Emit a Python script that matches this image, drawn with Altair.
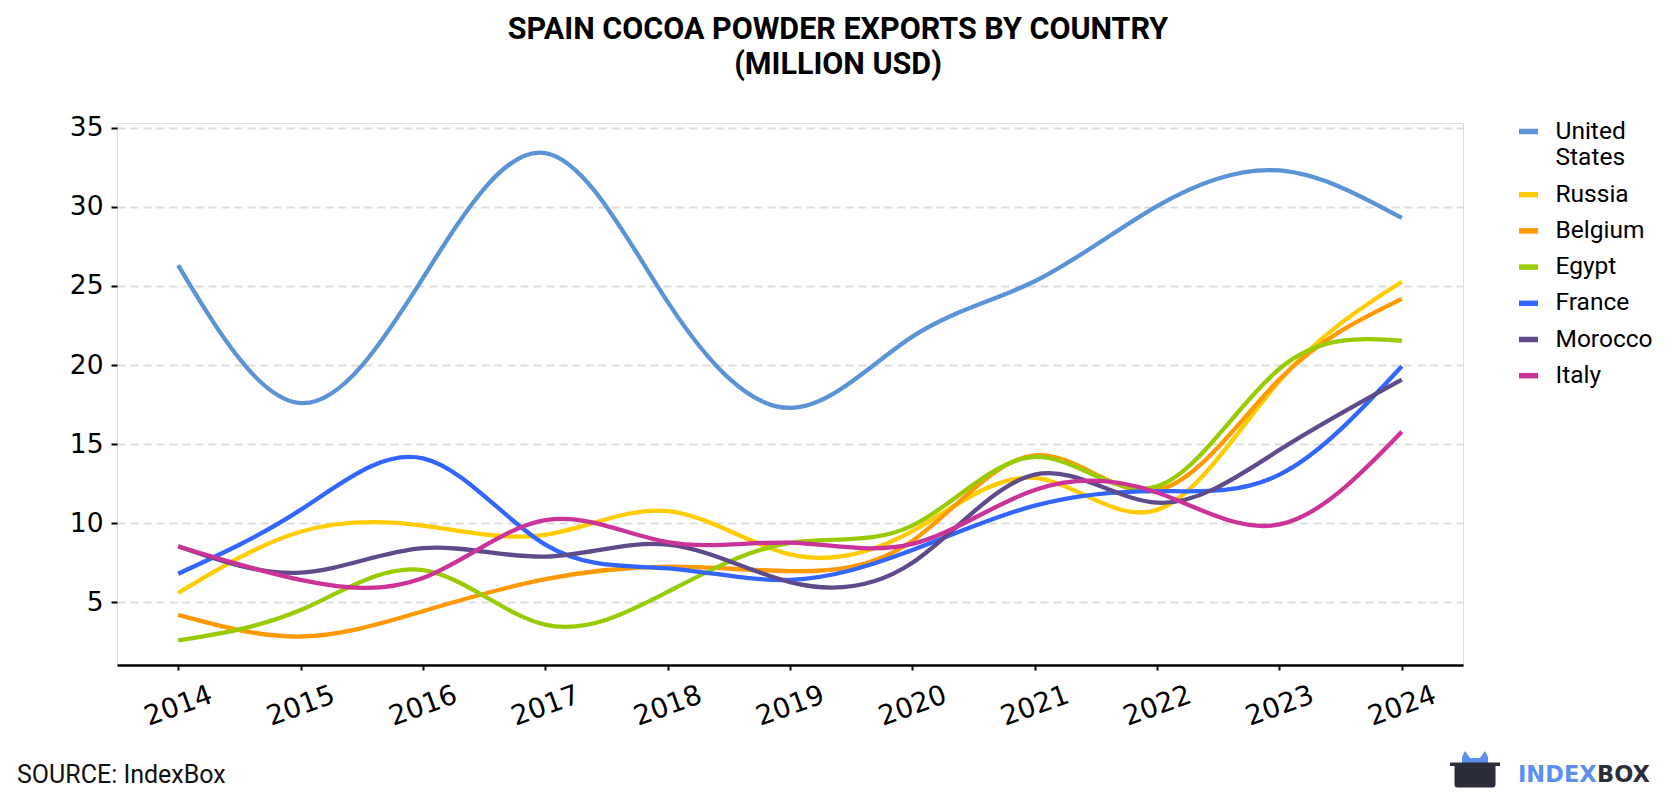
import altair as alt
import pandas as pd

# Export values, million USD
years = list(range(2014, 2025))
countries = ["United States", "Russia", "Belgium", "Egypt", "France", "Morocco", "Italy"]
colors = ["#5B94D6", "#FFCC00", "#FF9900", "#99CC00", "#3366FF", "#5F4B8B", "#CC3399"]

united_states = [26.3, 17.6, 25.5, 33.4, 24.0, 17.3, 21.8, 25.3, 30.05, 32.3, 29.3]
russia = [5.6, 9.47, 9.86, 9.28, 10.78, 8.04, 9.51, 12.87, 10.85, 19.0, 25.27]
belgium = [4.22, 2.85, 4.45, 6.47, 7.26, 6.98, 8.89, 14.3, 12.1, 19.1, 24.19]
egypt = [2.61, 4.52, 7.05, 3.6, 5.67, 8.77, 9.86, 14.2, 12.34, 19.77, 21.54]
france = [6.82, 10.85, 14.11, 8.66, 7.16, 6.43, 8.31, 11.12, 12.04, 13.08, 19.93]
morocco = [8.55, 6.89, 8.43, 7.9, 8.66, 6.29, 7.51, 13.08, 11.31, 14.64, 19.08]
italy = [8.54, 6.43, 6.55, 10.2, 8.82, 8.78, 8.7, 12.11, 11.95, 9.93, 15.79]

series = [united_states, russia, belgium, egypt, france, morocco, italy]
rows = []
for name, vals in zip(countries, series):
    for yr, v in zip(years, vals):
        rows.append({"year": yr, "value": v, "country": name})
df = pd.DataFrame(rows)

y_ticks = [5, 10, 15, 20, 25, 30, 35]

lines = alt.Chart(df).mark_line(interpolate="natural", strokeWidth=4.3).encode(
    x=alt.X(
        "year:Q",
        scale=alt.Scale(domain=[2013.5, 2024.5], nice=False, zero=False),
        axis=alt.Axis(
            values=years, format="d", title=None, grid=False,
            domain=True, domainColor="black", domainWidth=2.5,
            ticks=True, tickColor="black", tickWidth=2, tickSize=5,
            labelAngle=-20, labelAlign="center", labelBaseline="middle",
            labelPadding=36, labelFont="DejaVu Sans", labelFontSize=27.5,
            labelColor="black",
        ),
    ),
    y=alt.Y(
        "value:Q",
        scale=alt.Scale(domain=[1.05, 35.3], nice=False, zero=False),
        axis=alt.Axis(
            values=y_ticks, title=None, domain=False,
            grid=True, gridColor="#DDDDDD", gridDash=[8, 5], gridWidth=2,
            ticks=True, tickColor="black", tickWidth=2, tickSize=6,
            labelPadding=8, labelFont="DejaVu Sans", labelFontSize=26.5,
            labelColor="black",
        ),
    ),
    color=alt.Color(
        "country:N",
        sort=countries,
        scale=alt.Scale(domain=countries, range=colors),
        legend=alt.Legend(
            title=None, orient="none", legendX=1399, legendY=-4,
            symbolType="stroke", symbolSize=361, symbolStrokeWidth=5.5,
            labelFont="Roboto", labelFontSize=24.5, labelColor="black",
            labelOffset=14.5, rowPadding=11.2, padding=0,
            labelExpr="datum.label == 'United States' ? ['United', 'States'] : datum.label",
        ),
    ),
    order=alt.Order("year:Q"),
)

source = alt.Chart(pd.DataFrame({"t": ["SOURCE: IndexBox"]})).mark_text(
    align="left", baseline="middle", font="Roboto", fontSize=25, color="#111111"
).encode(x=alt.value(-100), y=alt.value(652), text="t:N")

logo_index = alt.Chart(pd.DataFrame({"t": ["INDEX"]})).mark_text(
    align="left", baseline="middle", font="DejaVu Sans", fontWeight="bold",
    fontSize=22.5, color="#5B8FF0"
).encode(x=alt.value(1401), y=alt.value(652), text="t:N")

logo_box = alt.Chart(pd.DataFrame({"t": ["BOX"]})).mark_text(
    align="left", baseline="middle", font="DejaVu Sans", fontWeight="bold",
    fontSize=22.5, color="#2B2D3A"
).encode(x=alt.value(1480), y=alt.value(652), text="t:N")

ears_path = "M-1,0.54 L-1,-0.15 L-0.77,-0.62 L-0.38,-0.08 L0.38,-0.08 L0.77,-0.62 L1,-0.15 L1,0.54 Z"
box_path = ("M-1,-0.5 L1,-0.5 L1,-0.36 L0.82,-0.36 L0.82,0.38 Q0.82,0.5 0.7,0.5 "
            "L-0.7,0.5 Q-0.82,0.5 -0.82,0.38 L-0.82,-0.36 L-1,-0.36 Z")

logo_ears = alt.Chart(pd.DataFrame({"k": ["ears"]})).mark_point(
    shape=ears_path, filled=True, size=676, color="#5B8FF0", opacity=1, strokeWidth=0
).encode(x=alt.value(1358), y=alt.value(636))

logo_body = alt.Chart(pd.DataFrame({"k": ["box"]})).mark_point(
    shape=box_path, filled=True, size=2500, color="#2B2D3A", opacity=1, strokeWidth=0
).encode(x=alt.value(1358), y=alt.value(652))

chart = alt.layer(lines, source, logo_index, logo_box, logo_ears, logo_body).properties(
    width=1346,
    height=542,
    padding={"left": 117, "top": 123, "right": 217, "bottom": 135},
    autosize=alt.AutoSizeParams(type="none"),
    title=alt.TitleParams(
        text=["SPAIN COCOA POWDER EXPORTS BY COUNTRY", "(MILLION USD)"],
        font="Roboto", fontSize=30.5, fontWeight="bold", color="black",
        anchor="middle", dx=48, offset=34, lineHeight=35,
    ),
).configure_view(stroke=None).configure(background="white")

chart.save("out.html", embed_options={"renderer": "svg", "actions": False})
